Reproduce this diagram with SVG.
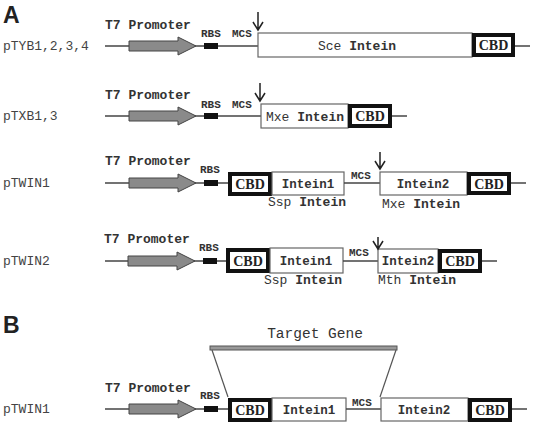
<svg xmlns="http://www.w3.org/2000/svg" width="533" height="424" viewBox="0 0 533 424">
<style>
.bb{stroke:#444;stroke-width:1.5;fill:none}
.prom{fill:#8a8a8a;stroke:#444;stroke-width:1}
.rbs{fill:#111}
.box{fill:#fff;stroke:#666;stroke-width:1.2}
.cbd{fill:#fff;stroke:#111;stroke-width:4}
.mono{font-family:"Liberation Mono","Courier New",monospace;fill:#333}
.b{font-weight:bold}
.lbl{font-family:"Liberation Mono","Courier New",monospace;font-size:13px;fill:#444}
.cbdt{font-family:"Liberation Serif","Times New Roman",serif;font-weight:bold;font-size:14px;fill:#222;text-anchor:middle}
.big{font-family:"Liberation Sans",Arial,sans-serif;font-weight:bold;font-size:23px;fill:#222}
.arr{stroke:#222;stroke-width:1.5;fill:none}
.tl{stroke:#555;stroke-width:1.2;fill:none}
</style>
<defs>
<polygon id="prom" class="prom" points="0,-5 49,-5 49,-9 67,0 49,9 49,5 0,5"/>
</defs>
<text class="big" x="3" y="23">A</text>
<text class="big" x="3" y="333">B</text>

<g id="pTYB">
<text class="lbl" x="3" y="50">pTYB1,2,3,4</text>
<line class="bb" x1="105" y1="46" x2="258" y2="46"/>
<use href="#prom" x="129" y="46"/>
<rect class="rbs" x="204" y="43" width="14" height="6"/>
<text class="mono b" x="105" y="29" font-size="13">T7 Promoter</text>
<text class="mono b" x="201" y="37" font-size="11">RBS</text>
<text class="mono b" x="232" y="37" font-size="11">MCS</text>
<rect class="box" x="258" y="33" width="214" height="24"/>
<text class="mono" x="318" y="50" font-size="13">Sce <tspan class="b">Intein</tspan></text>
<rect class="cbd" x="474" y="35" width="39" height="20"/>
<text class="cbdt" x="493.5" y="50">CBD</text>
<line class="bb" x1="515" y1="46" x2="530" y2="46"/>
</g>

<g id="pTXB">
<text class="lbl" x="3" y="120">pTXB1,3</text>
<line class="bb" x1="105" y1="116" x2="261" y2="116"/>
<use href="#prom" x="129" y="116"/>
<rect class="rbs" x="204" y="113" width="14" height="6"/>
<text class="mono b" x="105" y="99" font-size="13">T7 Promoter</text>
<text class="mono b" x="201" y="108" font-size="11">RBS</text>
<text class="mono b" x="232" y="108" font-size="11">MCS</text>
<rect class="box" x="261" y="104" width="87" height="24"/>
<text class="mono" x="266" y="121" font-size="13">Mxe <tspan class="b">Intein</tspan></text>
<rect class="cbd" x="350" y="106" width="40" height="20"/>
<text class="cbdt" x="370" y="121">CBD</text>
<line class="bb" x1="392" y1="116" x2="407" y2="116"/>
</g>

<g id="pTWIN1">
<text class="lbl" x="3" y="187">pTWIN1</text>
<line class="bb" x1="105" y1="183" x2="228" y2="183"/>
<use href="#prom" x="129" y="183"/>
<rect class="rbs" x="204" y="180" width="14" height="6"/>
<text class="mono b" x="105" y="165" font-size="13">T7 Promoter</text>
<text class="mono b" x="200" y="173" font-size="11">RBS</text>
<rect class="cbd" x="230" y="174" width="40" height="20"/>
<text class="cbdt" x="250" y="189">CBD</text>
<rect class="box" x="272" y="172" width="72" height="23"/>
<text class="mono b" x="308" y="188" font-size="12.5" text-anchor="middle">Intein1</text>
<line class="bb" x1="344" y1="183" x2="380" y2="183"/>
<text class="mono b" x="351" y="179" font-size="11">MCS</text>
<rect class="box" x="380" y="172" width="87" height="23"/>
<text class="mono b" x="423" y="188" font-size="12.5" text-anchor="middle">Intein2</text>
<rect class="cbd" x="469" y="174" width="40" height="19"/>
<text class="cbdt" x="489" y="189">CBD</text>
<line class="bb" x1="511" y1="183" x2="526" y2="183"/>
<text class="mono" x="268" y="206" font-size="13">Ssp <tspan class="b">Intein</tspan></text>
<text class="mono" x="382" y="208" font-size="13">Mxe <tspan class="b">Intein</tspan></text>
</g>

<g id="pTWIN2">
<text class="lbl" x="3" y="265">pTWIN2</text>
<line class="bb" x1="105" y1="261" x2="226" y2="261"/>
<use href="#prom" x="128" y="261"/>
<rect class="rbs" x="203" y="258" width="14" height="6"/>
<text class="mono b" x="104" y="243" font-size="13">T7 Promoter</text>
<text class="mono b" x="199" y="251" font-size="11">RBS</text>
<rect class="cbd" x="228" y="250" width="40" height="21"/>
<text class="cbdt" x="248" y="266">CBD</text>
<rect class="box" x="270" y="248" width="73" height="25"/>
<text class="mono b" x="306" y="265" font-size="12.5" text-anchor="middle">Intein1</text>
<line class="bb" x1="343" y1="261" x2="378" y2="261"/>
<text class="mono b" x="349" y="256" font-size="11">MCS</text>
<rect class="box" x="378" y="249" width="60" height="24"/>
<text class="mono b" x="408" y="265" font-size="12.5" text-anchor="middle">Intein2</text>
<rect class="cbd" x="440" y="251" width="40" height="20"/>
<text class="cbdt" x="460" y="266">CBD</text>
<line class="bb" x1="482" y1="261" x2="497" y2="261"/>
<text class="mono" x="264" y="284" font-size="13">Ssp <tspan class="b">Intein</tspan></text>
<text class="mono" x="378" y="284" font-size="13">Mth <tspan class="b">Intein</tspan></text>
</g>

<g id="targetGene">
<rect x="210" y="346" width="187" height="4" fill="#999" stroke="#555" stroke-width="1"/>
<text class="mono" x="315" y="338" font-size="14.5" text-anchor="middle">Target Gene</text>
</g>

<g id="pTWIN1B">
<text class="lbl" x="3" y="413">pTWIN1</text>
<line class="bb" x1="105" y1="409" x2="228" y2="409"/>
<use href="#prom" x="129" y="409"/>
<rect class="rbs" x="204" y="406" width="14" height="6"/>
<text class="mono b" x="105" y="392" font-size="13">T7 Promoter</text>
<text class="mono b" x="200" y="399" font-size="11">RBS</text>
<rect class="cbd" x="230" y="400" width="40" height="20"/>
<text class="cbdt" x="250" y="415">CBD</text>
<rect class="box" x="272" y="398" width="74" height="23"/>
<text class="mono b" x="309" y="414" font-size="12.5" text-anchor="middle">Intein1</text>
<line class="bb" x1="346" y1="409" x2="381" y2="409"/>
<text class="mono b" x="352" y="406" font-size="11">MCS</text>
<rect class="box" x="381" y="398" width="87" height="23"/>
<text class="mono b" x="424" y="414" font-size="12.5" text-anchor="middle">Intein2</text>
<rect class="cbd" x="470" y="400" width="40" height="20"/>
<text class="cbdt" x="490" y="415">CBD</text>
<line class="bb" x1="512" y1="409" x2="527" y2="409"/>
</g>

<g id="connectors">
<path class="arr" d="M258,12 V30 M253,22 L258,30 L263,22"/>
<path class="arr" d="M260,83 V101 M255,93 L260,101 L265,93"/>
<path class="arr" d="M380,152 V169 M375,161 L380,169 L385,161"/>
<path class="arr" d="M378,237 V249 M373,241 L378,249 L383,241"/>
<line class="tl" x1="212" y1="350" x2="228" y2="397"/>
<line class="tl" x1="396" y1="350" x2="380" y2="397"/>
</g>
</svg>
